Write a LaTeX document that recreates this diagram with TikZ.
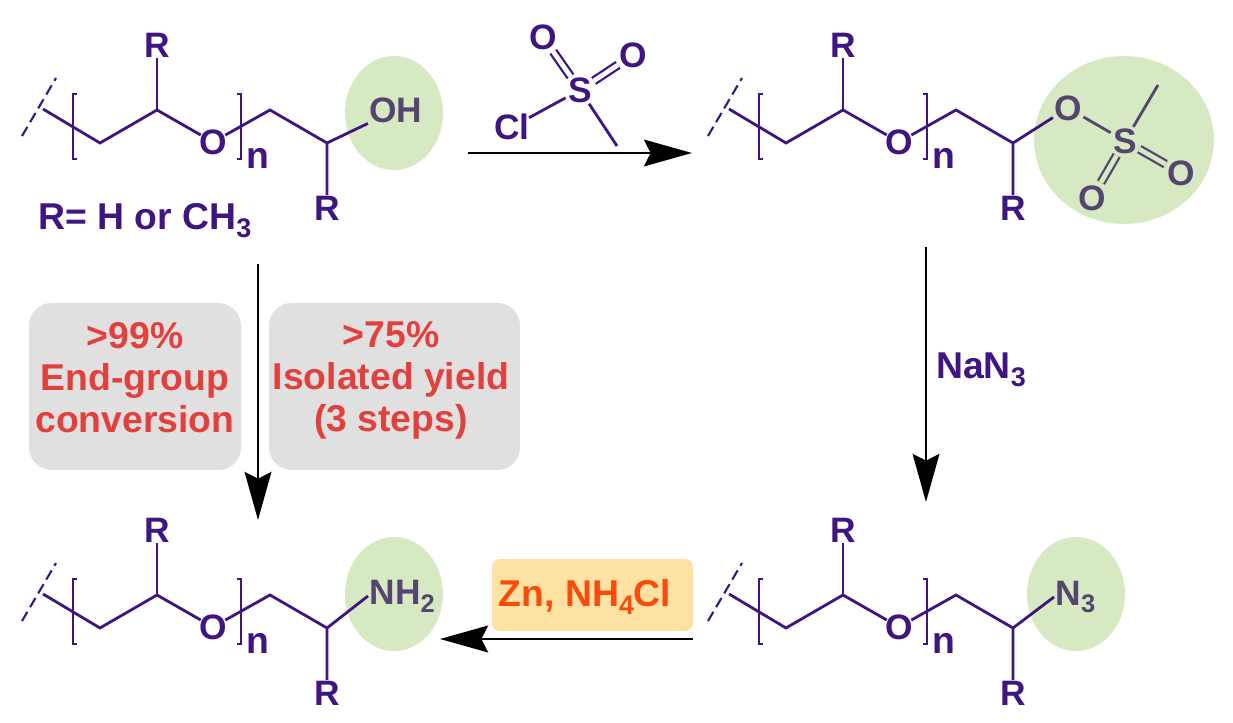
\documentclass[tikz,border=0pt]{standalone}
\usepackage{fontspec}
\setmainfont{Liberation Sans}
\usetikzlibrary{arrows.meta}
\definecolor{chem}{HTML}{3F1582}
\definecolor{chemgrey}{HTML}{54466F}
\definecolor{leaf}{HTML}{D6E9C3}
\definecolor{boxgrey}{HTML}{E0E0E0}
\definecolor{redtxt}{HTML}{E2403C}
\definecolor{boxyellow}{HTML}{FDE2A4}
\definecolor{orangetxt}{HTML}{FA4A0C}
\newcommand\txtsize{\fontsize{28}{31.5}\selectfont\bfseries}
\newcommand\atomsize{\fontsize{26.5}{31}\selectfont\bfseries}
\newcommand\subs[1]{\raisebox{-.22em}{\scalebox{.72}{#1}}}
\tikzset{
  x=.75pt,y=-.75pt,
  bond/.style={draw=chem,line width=2.1pt,line join=miter},
  thin bond/.style={draw=chem,line width=1.6pt},
  greybond/.style={draw=chemgrey,line width=2.1pt},
  dashbond/.style={draw=chem,line width=1.6pt,dash pattern=on 8pt off 4pt},
  atom/.style={circle,inner sep=-2.5pt,font=\atomsize,text=chem},
  roomy/.style={inner sep=-.5pt},
  grouplabel/.style={inner sep=1pt,font=\atomsize,text=chemgrey},
  txtlabel/.style={inner sep=0pt,font=\txtsize,text=chem},
  infobox/.style={fill=boxgrey,rounded corners=17pt},
  infotxt/.style={inner sep=0pt,font=\txtsize,text=redtxt,align=center},
  yieldbox/.style={fill=boxyellow,rounded corners=6pt},
  rxn/.style={draw=black,line width=2.1pt,-{Stealth[length=36pt,width=20pt,inset=5pt]}},
}
\newcommand\polymer[3]{%
 \begin{scope}[shift={(#2,#3)}]
  \coordinate (#1d1) at (22,136); \coordinate (#1d2) at (56,78);
  \coordinate (#1c0) at (43,109); \coordinate (#1c1) at (100,143);
  \coordinate (#1c2) at (157,110); \coordinate (#1c3) at (270,110);
  \coordinate (#1c4) at (327,143);
  \coordinate (#1bla) at (77,94); \coordinate (#1blb) at (73,94);
  \coordinate (#1blc) at (73,159); \coordinate (#1bld) at (77,159);
  \coordinate (#1bra) at (237,94); \coordinate (#1brb) at (241,94);
  \coordinate (#1brc) at (241,159); \coordinate (#1brd) at (237,159);
  \node[atom] (#1Rt) at (157,45) {R};
  \node[atom] (#1O) at (213,142) {O};
  \node[atom] (#1Rb) at (327,208) {R};
  \node[txtlabel] (#1n) at (258,158) {n};
  \draw[dashbond] (#1d1) -- (#1d2);
  \draw[bond] (#1c0) -- (#1c1) -- (#1c2) -- (#1O);
  \draw[bond] (#1O) -- (#1c3) -- (#1c4) -- (#1Rb);
  \draw[bond] (#1Rt) -- (#1c2);
  \draw[thin bond] (#1bla) -- (#1blb) -- (#1blc) -- (#1bld);
  \draw[thin bond] (#1bra) -- (#1brb) -- (#1brc) -- (#1brd);
 \end{scope}}
\begin{document}
\begin{tikzpicture}
\useasboundingbox (0,0) rectangle (1233,723);
\fill[white] (0,0) rectangle (1233,723);
% green patches
\fill[leaf] (394,113) ellipse [x radius=49,y radius=57];
\fill[leaf] (1124,140) ellipse [x radius=90,y radius=84];
\fill[leaf] (394,594) ellipse [x radius=49,y radius=57];
\fill[leaf] (1076,594) ellipse [x radius=49,y radius=57];
% boxes
\fill[infobox] (29,303) rectangle (241,470);
\fill[infobox] (269,303) rectangle (520,470);
\fill[yieldbox] (492,559) rectangle (693,631);
% polymers
\polymer{a}{0}{0}
\polymer{b}{686}{0}
\polymer{c}{0}{485}
\polymer{d}{686}{485}
% OH
\node[grouplabel] (OH) at (396,110) {OH};
\draw[bond] (ac4) -- (OH);
% NH2
\node[grouplabel,anchor=west] (NH) at (368,596) {NH\subs{2}};
\draw[bond] (cc4) -- (NH.west);
% N3
\node[grouplabel,anchor=west] (NN) at (1054,597) {N\subs{3}};
\draw[bond] (dc4) -- (NN.west);
% OMs
\node[atom,roomy,text=chemgrey] (mO) at (1068,108) {O};
\node[atom,roomy,text=chemgrey] (mS) at (1125,141) {S};
\node[atom,roomy,text=chemgrey] (mO1) at (1181,173) {O};
\node[atom,roomy,text=chemgrey] (mO2) at (1092,198) {O};
\coordinate (mMe) at (1158,85);
\draw[bond] (bc4) -- (mO);
\draw[greybond] (mO) -- (mS);
\draw[greybond] (mS) -- (mMe);
\draw[draw=chemgrey,line width=1.7pt,double=leaf,double distance=3.5pt] (mS) -- (mO1);
\draw[draw=chemgrey,line width=1.7pt,double=leaf,double distance=3.5pt] (mS) -- (mO2);
% MsCl
\node[atom,roomy] (sS) at (580,90) {S};
\node[atom,roomy] (sO1) at (543,37) {O};
\node[atom,roomy] (sO2) at (633,55) {O};
\node[atom,inner sep=-1.5pt] (sCl) at (512,127) {Cl};
\coordinate (sMe) at (617,146);
\draw[draw=chem,line width=1.7pt,double=white,double distance=3.5pt] (sS) -- (sO1);
\draw[draw=chem,line width=1.7pt,double=white,double distance=3.5pt] (sS) -- (sO2);
\draw[bond] (sS) -- (sCl);
\draw[bond] (sS) -- (sMe);
% texts
\node[txtlabel,anchor=west] (Rdef) at (38,221) {R= H or CH\subs{3}};
\node[infotxt] (i1) at (135,378) {>99\%\\End-group\\conversion};
\node[infotxt] (i2) at (391,380) {>75\%\\Isolated yield\\(3 steps)};
\node[txtlabel,anchor=west] (na) at (936,370) {NaN\subs{3}};
\node[txtlabel,text=orangetxt] (zn) at (585,597) {Zn, NH\subs{4}Cl};
% arrows
\coordinate (r1s) at (468,153); \coordinate (r1e) at (692,153);
\coordinate (r2s) at (926,247); \coordinate (r2e) at (926,502);
\coordinate (r3s) at (693,639); \coordinate (r3e) at (440,639);
\coordinate (r4s) at (258,264); \coordinate (r4e) at (258,520);
\draw[rxn] (r1s) -- (r1e);
\draw[rxn] (r2s) -- (r2e);
\draw[rxn] (r3s) -- (r3e);
\draw[rxn] (r4s) -- (r4e);
\end{tikzpicture}
\end{document}
